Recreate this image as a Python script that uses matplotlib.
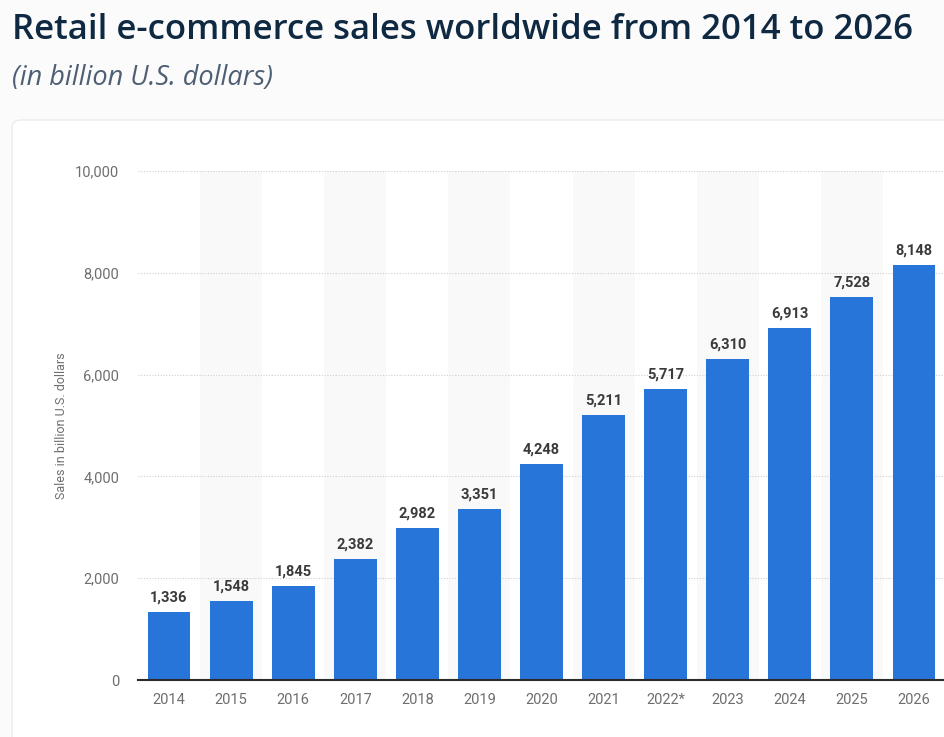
import matplotlib
matplotlib.use("Agg")
import matplotlib.pyplot as plt
from matplotlib.patches import FancyBboxPatch
from matplotlib.ticker import FuncFormatter

years = ["2014", "2015", "2016", "2017", "2018", "2019", "2020", "2021", "2022*",
         "2023", "2024", "2025", "2026"]
sales = [1336, 1548, 1845, 2382, 2982, 3351, 4248, 5211, 5717, 6310, 6913, 7528, 8148]
yticks = [0, 2000, 4000, 6000, 8000, 10000]

W, H = 945, 737
fig = plt.figure(figsize=(W / 100, H / 100), dpi=100)
fig.patch.set_facecolor("#fbfbfb")

# card
card = FancyBboxPatch((12 / W, -0.05), 1.0, (737 - 120) / H + 0.05,
                      boxstyle="round,pad=0,rounding_size=0.01",
                      transform=fig.transFigure, facecolor="white",
                      edgecolor="#ececec", linewidth=1.0, zorder=-10)
fig.patches.append(card)

fig.text(12 / W, 1 - 30 / H, "Retail e-commerce sales worldwide from 2014 to 2026",
         fontsize=25, fontweight="semibold", color="#0f2942", family="Open Sans",
         va="center", ha="left")
fig.text(12 / W, 1 - 78 / H, "(in billion U.S. dollars)", fontsize=19.5,
         style="italic", color="#4f5f73", family="Open Sans", va="center", ha="left")

ax = fig.add_axes([138 / W, 1 - 680 / H, (W - 138) / W, (680 - 171) / H])
ax.set_zorder(5)
ax.set_facecolor("none")
x = list(range(len(years)))

for i in x:
    if i % 2 == 1:
        ax.axvspan(i - 0.5, i + 0.5, ymin=0, ymax=1, color="#f9f9f9", zorder=0, lw=0)

ax.bar(x, sales, width=0.69, color="#2775d9", zorder=3)
for i, v in zip(x, sales):
    ax.text(i, v + 150, f"{v:,}", ha="center", va="bottom", fontsize=10.5,
            fontweight="bold", color="#3a3a3a", family="Roboto", zorder=4)

ax.set_xlim(-0.5, len(years) - 0.5)
ax.set_ylim(0, 10000)
ax.set_yticks(yticks)
ax.yaxis.set_major_formatter(FuncFormatter(lambda v, p: f"{int(v):,}"))
ax.set_xticks(x)
ax.set_xticklabels(years)
ax.grid(axis="y", linestyle=(0, (1, 1.5)), color="#cfcfcf", linewidth=0.8, zorder=1)
ax.set_axisbelow(True)
for s in ["top", "right", "left"]:
    ax.spines[s].set_visible(False)
ax.spines["bottom"].set_color("#2b2b2b")
ax.spines["bottom"].set_linewidth(1.5)
ax.spines["bottom"].set_zorder(5)
ax.tick_params(axis="both", length=0, colors="#6e6e6e", labelsize=10.5)
ax.tick_params(axis="y", pad=13.5)
ax.tick_params(axis="x", pad=9)
for lbl in ax.get_xticklabels() + ax.get_yticklabels():
    lbl.set_family("Roboto")
ax.set_ylabel("Sales in billion U.S. dollars", fontsize=9, color="#6e6e6e",
              family="Roboto")
ax.yaxis.set_label_coords(-(138 - 68) / (W - 138), 0.5)

fig.savefig("out.png", dpi=100)
